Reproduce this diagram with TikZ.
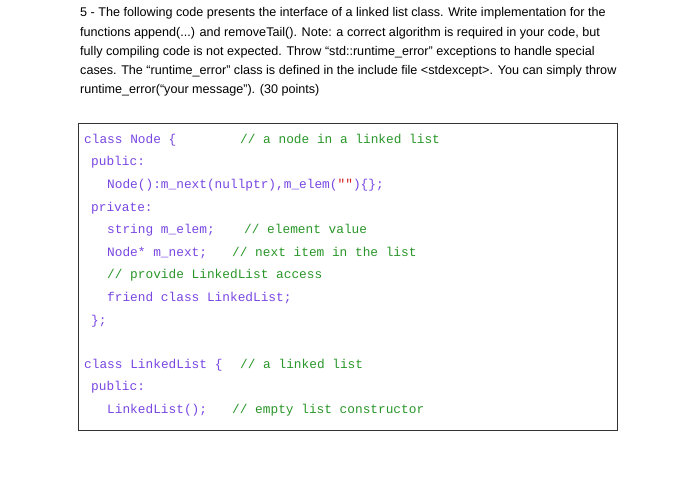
\documentclass[tikz,border=0pt]{standalone}
\usepackage{fontspec}
\setmainfont{Liberation Sans}
\newfontfamily\codefont{Liberation Mono}
\definecolor{kw}{RGB}{120,70,225}
\definecolor{cm}{RGB}{40,150,40}
\definecolor{st}{RGB}{210,30,30}
\tikzset{x=1pt,y=-1pt,
 para/.style={anchor=base west,inner sep=0pt,font=\fontsize{12.6}{18}\selectfont},
 code/.style={anchor=base west,inner sep=0pt,text=kw,font=\codefont\fontsize{12.8}{14}\selectfont},
 cmt/.style={code,text=cm}}
\begin{document}
\begin{tikzpicture}
\useasboundingbox (0,0) rectangle (686,493);
\node[para] (p1) at (80,16) {5 - The following code presents the interface of a linked list class. Write implementation for the};
\node[para] (p2) at (80,36) {functions append(...) and removeTail(). Note: a correct algorithm is required in your code, but};
\node[para] (p3) at (80,55) {fully compiling code is not expected. Throw “std::runtime\_error” exceptions to handle special};
\node[para] (p4) at (80,74) {cases. The “runtime\_error” class is defined in the include file <stdexcept>. You can simply throw};
\node[para] (p5) at (80,93) {runtime\_error(“your message”). (30 points)};
\node[draw=black!80,line width=0.8pt,minimum width=539,minimum height=307,anchor=north west,inner sep=0pt] (box) at (78,123) {};
\node[code] (c1) at (84,143) {class Node \{};
\node[cmt] (m1) at (240,143) {// a node in a linked list};
\node[code] (c2) at (91,165) {public:};
\node[code] (c3) at (107,188) {Node():m\_next(nullptr),m\_elem(\textcolor{st}{""})\{\};};
\node[code] (c4) at (91,211) {private:};
\node[code] (c5) at (107,233) {string m\_elem;};
\node[cmt] (m5) at (244,233) {// element value};
\node[code] (c6) at (107,256) {Node* m\_next;};
\node[cmt] (m6) at (232,256) {// next item in the list};
\node[cmt] (c7) at (107,278) {// provide LinkedList access};
\node[code] (c8) at (107,301) {friend class LinkedList;};
\node[code] (c9) at (91,324) {\};};
\node[code] (c10) at (84,368) {class LinkedList \{};
\node[cmt] (m10) at (240,368) {// a linked list};
\node[code] (c11) at (91,390) {public:};
\node[code] (c12) at (107,413) {LinkedList();};
\node[cmt] (m12) at (232,413) {// empty list constructor};
\end{tikzpicture}
\end{document}
